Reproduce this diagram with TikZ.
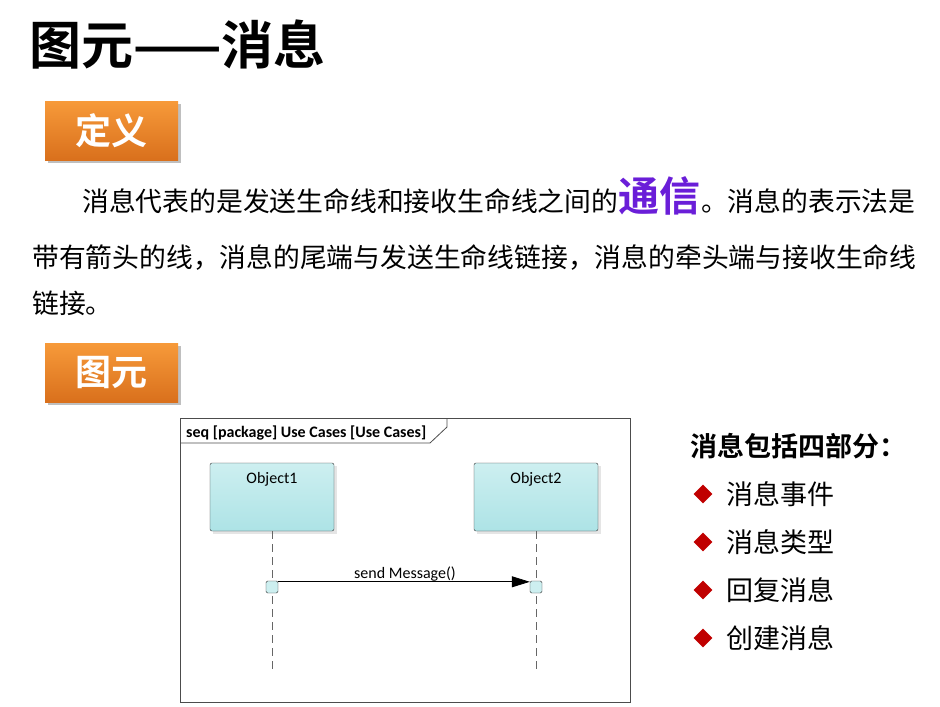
\documentclass[tikz,border=0pt]{standalone}
\usepackage{fontspec}
\setmainfont{Noto Sans CJK SC}
\newfontfamily\cjkb{Noto Sans CJK SC Bold}
\newfontfamily\uisans{Carlito}
\usetikzlibrary{shapes.geometric,arrows.meta}
\definecolor{orA}{HTML}{F79A3A}
\definecolor{orB}{HTML}{D9701C}
\definecolor{objA}{HTML}{CDEFF0}
\definecolor{objB}{HTML}{ADE3E6}
\definecolor{purp}{HTML}{6A1ED8}
\definecolor{dred}{HTML}{C00000}
\tikzset{
  tag/.style={minimum width=133pt,minimum height=59pt,top color=orA,bottom color=orB,draw=none,text=white,font=\cjkb\fontsize{36}{36}\selectfont,inner sep=0pt},
  body/.style={font=\fontsize{26.8}{26.8}\selectfont,inner sep=0pt,anchor=base west},
  obj/.style={draw=black!80,rounded corners=2pt,top color=objA,bottom color=objB,minimum width=124pt,minimum height=68pt,inner sep=0pt},
  act/.style={draw=black!80,fill=objA,rounded corners=1.5pt,minimum size=12pt,inner sep=0pt},
  life/.style={draw=black!60,line width=1pt,dash pattern=on 8pt off 5pt},
  item/.style={font=\fontsize{27}{27}\selectfont,inner sep=0pt,anchor=base west},
  dia/.style={diamond,fill=dred,minimum size=19pt,inner sep=0pt},
  uml/.style={font=\uisans\fontsize{16}{16}\selectfont,anchor=base}
}
\begin{document}
\begin{tikzpicture}[x=1pt,y=-1pt]
\useasboundingbox (0,0) rectangle (940,707);
\node[anchor=base west,inner sep=0pt,font=\cjkb\fontsize{52}{52}\selectfont] (title) at (29,64) {图元——消息};
\fill[black!25] (48,104) rectangle (181,163);
\node[tag] (t1) at (111.5,130.5) {定义};
\node[body] (l1a) at (82,211) {消息代表的是发送生命线和接收生命线之间的};
\node[anchor=base west,inner sep=0pt,font=\cjkb\fontsize{41}{41}\selectfont,text=purp] (l1b) at (l1a.base east) {通信};
\node[body] (l1c) at (l1b.base east) {。消息的表示法是};
\node[body] (l2) at (32,267) {带有箭头的线，消息的尾端与发送生命线链接，消息的牵头端与接收生命线};
\node[body] (l3) at (32,313) {链接。};
\fill[black!25] (48,346) rectangle (181,405);
\node[tag] (t2) at (111.5,372.5) {图元};
% frame
\draw[black!70,line width=0.8pt] (180,418) rectangle (630,702);
\draw[black!70,line width=0.8pt] (180,443) -- (430,443) -- (447,427) -- (447,418);
\node[anchor=base west,inner sep=0pt,font=\uisans\bfseries\fontsize{16}{16}\selectfont] (hdr) at (186,437) {seq [package] Use Cases [Use Cases]};
\fill[black!10] (213,466) rectangle (337,534);
\fill[black!10] (477,466) rectangle (601,534);
\node[obj] (o1) at (272,497) {};
\node[obj] (o2) at (536,497) {};
\node[uml] at (272,483) {Object1};
\node[uml] at (536,483) {Object2};
\coordinate (e1) at (272,672);
\coordinate (e2) at (536,672);
\draw[life] (o1.south) -- (e1);
\draw[life] (o2.south) -- (e2);
\node[act] (a1) at (272,587) {};
\node[act] (a2) at (536,587) {};
\draw[line width=0.8pt,-{Triangle[length=18pt,width=11pt]}] (a1.north east) ++(0,1) coordinate (s) -- (s -| a2.west);
\node[uml] (msg) at (405,578) {send Message()};
% list
\node[anchor=base west,inner sep=0pt,font=\cjkb\fontsize{27}{27}\selectfont] (lh) at (690,456) {消息包括四部分：};
\node[dia] (d1) at (703,494) {};
\node[item] (i1) at (726,504) {消息事件};
\node[dia] (d2) at (703,542) {};
\node[item] (i2) at (726,552) {消息类型};
\node[dia] (d3) at (703,590) {};
\node[item] (i3) at (726,600) {回复消息};
\node[dia] (d4) at (703,638) {};
\node[item] (i4) at (726,648) {创建消息};
\end{tikzpicture}
\end{document}
